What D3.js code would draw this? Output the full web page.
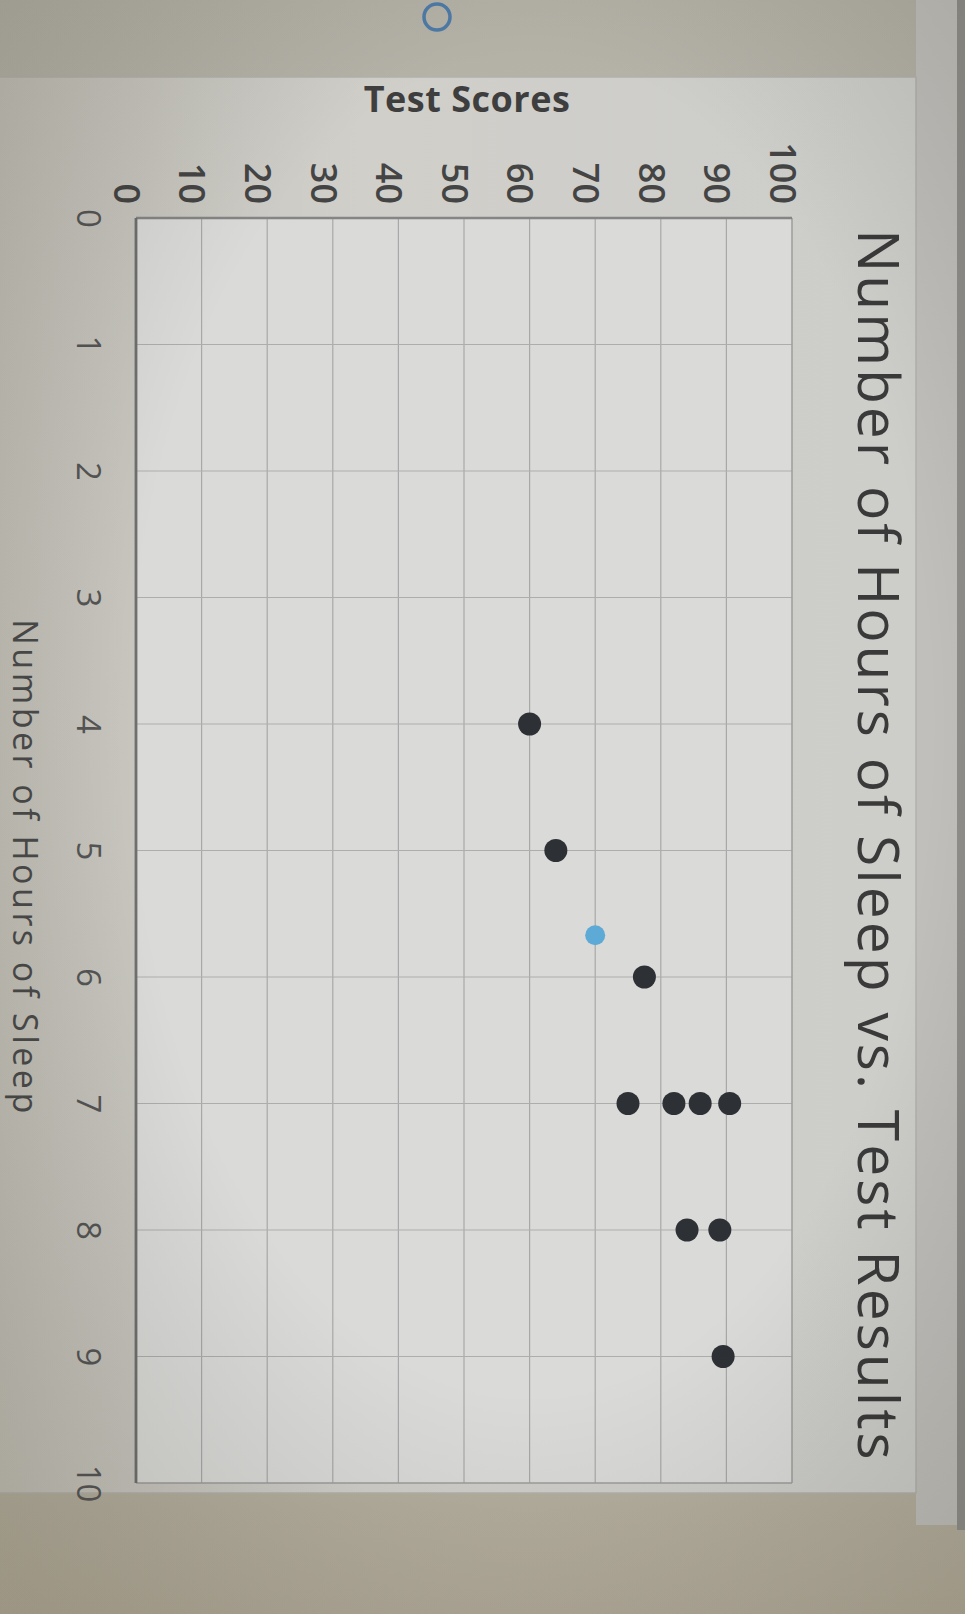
<!DOCTYPE html>
<html>
<head>
<meta charset="utf-8">
<script src="https://cdn.jsdelivr.net/npm/d3@7"></script>
<style>
  html, body { margin: 0; padding: 0; background: #bcb9af; }
  svg { display: block; }
</style>
</head>
<body>
<svg id="chart" width="965" height="1614"></svg>
<script>
// ---- data ----
const hours  = [4, 5, 5.67, 6, 7, 7, 7, 7, 8, 8, 9];
const scores = [60, 64, 70, 77.5, 75, 82, 86, 90.5, 84, 89, 89.5];
const selectedIndex = 2;             // the light-blue (selected) point
const hourTicks  = [0, 1, 2, 3, 4, 5, 6, 7, 8, 9, 10];
const scoreTicks = [0, 10, 20, 30, 40, 50, 60, 70, 80, 90, 100];
const titleText  = "Number of Hours of Sleep vs. Test Results";
const xLabelText = "Number of Hours of Sleep";
const yLabelText = "Test Scores";

// ---- layout ----
const svg = d3.select("#chart");
const defs = svg.append("defs");

const bgGrad = defs.append("linearGradient").attr("id", "bg").attr("x1", 0).attr("y1", 0).attr("x2", 0).attr("y2", 1);
bgGrad.append("stop").attr("offset", "0%").attr("stop-color", "#b3b0a6");
bgGrad.append("stop").attr("offset", "50%").attr("stop-color", "#c3c1b8");
bgGrad.append("stop").attr("offset", "100%").attr("stop-color", "#b2ab9a");
svg.append("rect").attr("width", 965).attr("height", 1614).attr("fill", "url(#bg)");

svg.append("rect").attr("x", 957).attr("y", 0).attr("width", 8).attr("height", 1530).attr("fill", "#8f8e8a");
svg.append("rect").attr("x", 916).attr("y", 0).attr("width", 41).attr("height", 1525).attr("fill", "#c0bfbb");

const panelGrad = defs.append("linearGradient").attr("id", "panel").attr("x1", 0).attr("y1", 0).attr("x2", 1).attr("y2", 0);
panelGrad.append("stop").attr("offset", "0%").attr("stop-color", "#c2c0b7");
panelGrad.append("stop").attr("offset", "40%").attr("stop-color", "#d0cfca");
panelGrad.append("stop").attr("offset", "100%").attr("stop-color", "#cdcdca");
svg.append("rect").attr("x", -2).attr("y", 77).attr("width", 918).attr("height", 1416)
   .attr("fill", "url(#panel)").attr("stroke", "#b2b1ab").attr("stroke-width", 1.5);

svg.append("circle").attr("cx", 437).attr("cy", 17).attr("r", 13)
   .attr("fill", "none").attr("stroke", "#4d7aa6").attr("stroke-width", 3.5);

// chart drawn in its own frame, then rotated 90° (photo is rotated)
const W = 1265, H = 656;
const plotRight = 792, plotTop = 218;
const x = d3.scaleLinear().domain([0, 10]).range([0, W]);
const y = d3.scaleLinear().domain([0, 100]).range([H, 0]);

const g = svg.append("g").attr("transform", `translate(${plotRight},${plotTop}) rotate(90)`);

g.append("rect").attr("x", 0).attr("y", 0).attr("width", W).attr("height", H).attr("fill", "#dadad8");

g.append("g").selectAll("line").data(scoreTicks.filter(d => d > 0 && d < 100)).join("line")
  .attr("x1", 0).attr("x2", W).attr("y1", d => y(d)).attr("y2", d => y(d))
  .attr("stroke", "#a8a8a8").attr("stroke-width", 1.2);
g.append("g").selectAll("line").data(hourTicks.filter(d => d > 0 && d < 10)).join("line")
  .attr("y1", 0).attr("y2", H).attr("x1", d => x(d)).attr("x2", d => x(d))
  .attr("stroke", "#adadad").attr("stroke-width", 1.2);

g.append("line").attr("x1", 0).attr("x2", W).attr("y1", y(100)).attr("y2", y(100)).attr("stroke", "#9c9c9c").attr("stroke-width", 1.5);
g.append("line").attr("x1", x(10)).attr("x2", x(10)).attr("y1", 0).attr("y2", H).attr("stroke", "#9c9c9c").attr("stroke-width", 1.5);
g.append("line").attr("x1", x(0)).attr("x2", x(0)).attr("y1", 0).attr("y2", H).attr("stroke", "#858585").attr("stroke-width", 2.6);
g.append("line").attr("x1", 0).attr("x2", W).attr("y1", y(0)).attr("y2", y(0)).attr("stroke", "#6f6f6f").attr("stroke-width", 2.8);

const xAxis = g.append("g").attr("transform", `translate(0,${H})`)
  .call(d3.axisBottom(x).tickValues(hourTicks).tickSize(0).tickPadding(36).tickFormat(d3.format("d")));
const yAxis = g.append("g")
  .call(d3.axisLeft(y).tickValues(scoreTicks).tickSize(0).tickPadding(14).tickFormat(d3.format("d")));
[xAxis, yAxis].forEach(a => a.select(".domain").remove());
xAxis.selectAll("text").attr("font-family", "'Open Sans', sans-serif").attr("font-size", 33)
  .attr("fill", "#555").attr("font-weight", 400);
yAxis.selectAll("text").attr("font-family", "'Open Sans', sans-serif").attr("font-size", 36)
  .attr("fill", "#444").attr("font-weight", 600).attr("dy", "0.6em");

g.append("g").selectAll("circle").data(hours.map((h, i) => ({h, s: scores[i], i}))).join("circle")
  .attr("cx", d => x(d.h)).attr("cy", d => y(d.s))
  .attr("r", d => d.i === selectedIndex ? 10 : 11.5)
  .attr("fill", d => d.i === selectedIndex ? "#5eaad6" : "#2d3135");

g.append("text").attr("x", 628).attr("y", -66).attr("text-anchor", "middle")
  .attr("font-family", "'Open Sans', sans-serif").attr("font-size", 57).attr("letter-spacing", 3)
  .attr("fill", "#3a3a3a").text(titleText);

g.append("text").attr("x", 650).attr("y", H + 123).attr("text-anchor", "middle")
  .attr("font-family", "'Open Sans', sans-serif").attr("font-size", 34).attr("letter-spacing", 3.5)
  .attr("fill", "#4a4a4a").text(xLabelText);

g.append("text").attr("transform", `translate(-106,${H / 2 - 3}) rotate(-90)`).attr("text-anchor", "middle")
  .attr("font-family", "'Open Sans', sans-serif").attr("font-size", 36).attr("font-weight", 700)
  .attr("letter-spacing", 0.5).attr("fill", "#3e3e3e").text(yLabelText);

const vig = defs.append("radialGradient").attr("id", "vig").attr("cx", "55%").attr("cy", "45%").attr("r", "75%");
vig.append("stop").attr("offset", "55%").attr("stop-color", "#000").attr("stop-opacity", 0);
vig.append("stop").attr("offset", "100%").attr("stop-color", "#3a3420").attr("stop-opacity", 0.18);
svg.append("rect").attr("width", 965).attr("height", 1614).attr("fill", "url(#vig)").attr("pointer-events", "none");
</script>
</body>
</html>
